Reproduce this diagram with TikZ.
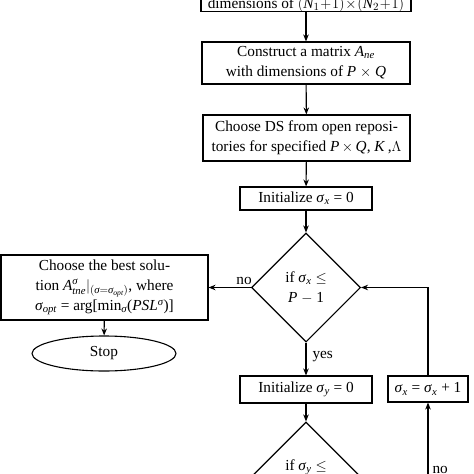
\documentclass[tikz,border=0pt]{standalone}
\usepackage{amsmath}
\usepackage{fontspec}
\setmainfont{Liberation Serif}
\usetikzlibrary{shapes.geometric,arrows.meta}
\newcommand\vi[1]{\textit{#1}}
\begin{document}
\begin{tikzpicture}[x=1pt,y=-1pt,
  font=\fontsize{15.3}{20}\selectfont, line width=1.1pt,
  box/.style={draw, rectangle, align=center, inner sep=0pt},
  arr/.style={-{Stealth[length=7pt,width=5.5pt]}},
  dia/.style={draw, diamond, align=center, inner sep=0pt, minimum width=109pt, minimum height=109pt},
  lbl/.style={inner sep=1pt}]
\useasboundingbox (0,0) rectangle (474,474);
\clip (0,0) rectangle (474,474);
\fill[white] (0,0) rectangle (474,474);

\node[box, minimum width=210pt, minimum height=40pt, anchor=south] (b0) at (306,12) {};
\node[anchor=base, inner sep=0pt] (t0) at (306,8) {dimensions of $(\vi{N}_1\!+\!1)\!\times\!(\vi{N}_2\!+\!1)$};
\node[box, minimum width=208pt, minimum height=42pt] (b1) at (306,63) {Construct a matrix \vi{A}$_{\vi{ne}}$\\with dimensions of \vi{P} $\times$ \vi{Q}};
\node[box, minimum width=207pt, minimum height=46pt] (b2) at (306.5,138) {Choose DS from open reposi-\\tories for specified \vi{P}\,$\times$\,\vi{Q}, \vi{K}\,,$\Lambda$};
\node[box, minimum width=132pt, minimum height=23pt] (b3) at (306,198.5) {Initialize \vi{σ}$_{\vi{x}}$ = 0};
\node[dia] (d1) at (306,287.5) {if \vi{σ}$_{\vi{x}}$ $\le$\\\vi{P} $-$ 1};
\node[box, minimum width=132pt, minimum height=27pt] (b4) at (306,389.5) {Initialize \vi{σ}$_{\vi{y}}$ = 0};
\node[dia] (d2) at (306,476.5) {if \vi{σ}$_{\vi{y}}$ $\le$\\\vi{Q} $-$ 1};
\node[box, minimum width=80pt, minimum height=26pt] (bx) at (428,389) {\vi{σ}$_{\vi{x}}$ = \vi{σ}$_{\vi{x}}$ + 1};
\node[box, minimum width=207pt, minimum height=65pt] (lb) at (104.5,287.5) {Choose the best solu-\\tion $\vi{A}^{\vi{σ}}_{\vi{tne}}|_{(\vi{σ}=\vi{σ}_{\vi{opt}})}$, where\\$\vi{σ}_{\vi{opt}}$ = arg[min$_{\vi{σ}}$(\vi{PSL}$^{\vi{σ}}$)]};
\node[draw, ellipse, minimum width=144pt, minimum height=35pt, inner sep=0pt] (stop) at (104,353.5) {Stop};
\coordinate (bot) at (428,490);

\draw[arr] (b0) -- (b1);
\draw[arr] (b1) -- (b2);
\draw[arr] (b2) -- (b3);
\draw[arr] (b3) -- (d1);
\draw[arr] (d1) -- (b4);
\draw[arr] (b4) -- (d2);
\draw[arr] (d1.west) -- (lb.east);
\draw[arr] (lb) -- (stop);
\draw[arr] (bx.north) |- (d1.east);
\draw[arr] (bot) -- (bx.south);

\node[lbl] (no1) at (244,281) {no};
\node[lbl, anchor=west] (yes1) at (311,357) {yes};
\node[lbl, anchor=west] (no2) at (431,470) {no};
\end{tikzpicture}
\end{document}
